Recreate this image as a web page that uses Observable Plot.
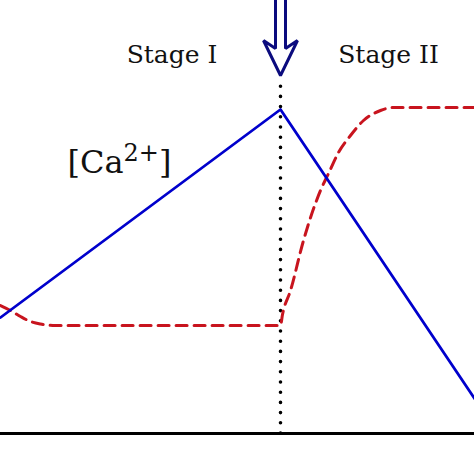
<!DOCTYPE html>
<html><head><meta charset="utf-8">
<script src="https://cdn.jsdelivr.net/npm/d3@7"></script>
<script src="https://cdn.jsdelivr.net/npm/@observablehq/plot@0.6"></script>
<style>html,body{margin:0;padding:0;background:#fff;} svg{display:block;}</style>
</head><body><div id="chart"></div>
<script>
// time axis and levels (level = height above the baseline)
const eventTime = 280;
const blueTime = [0, 280, 474];
const blueLevel = [116, 324, 35];
const redTime = [0, 10, 20, 30, 40, 55, 280, 282, 290, 303, 320, 328, 338, 350, 363, 380, 393, 474];
const redLevel = [128, 123, 117, 112, 109.5, 108, 108, 119, 143, 193, 243, 260, 281, 298, 313, 323, 326, 326];
const stageLabels = ["Stage I", "Stage II"];
const stageX = [171.5, 388];
const dottedTop = 355;
// arrow glyph outline relative to event time (time offset, level)
const arrowDx = [-5, -5, -17, 0, 17, 5, 5, -5];
const arrowLevel = [440, 385, 393, 358, 393, 385, 440, 440];

const blue = blueTime.map((t, i) => ({t, v: blueLevel[i]}));
const red = redTime.map((t, i) => ({t, v: redLevel[i]}));
const arrow = arrowDx.map((d, i) => ({t: eventTime + d, v: arrowLevel[i]}));
const stages = stageLabels.map((s, i) => ({s, t: stageX[i], v: 379}));

const plot = Plot.plot({
  width: 474, height: 474,
  marginTop: 0, marginBottom: 0, marginLeft: 0, marginRight: 0,
  x: {domain: [0, 474], axis: null},
  y: {domain: [-41, 433], axis: null},
  style: {background: "white", overflow: "visible"},
  marks: [
    Plot.ruleX([eventTime], {y1: 0, y2: dottedTop, stroke: "black", strokeWidth: 3.6, strokeDasharray: "0,10.2", strokeLinecap: "round"}),
    Plot.line(red, {x: "t", y: "v", stroke: "#c8141e", strokeWidth: 3, strokeDasharray: "11,7", curve: "monotone-x"}),
    Plot.line(blue, {x: "t", y: "v", stroke: "#0000cc", strokeWidth: 2.8}),
    Plot.ruleY([0], {stroke: "black", strokeWidth: 3}),
    Plot.line(arrow, {x: "t", y: "v", stroke: "#0b0b7e", strokeWidth: 3, fill: "white", strokeLinejoin: "miter"}),
    Plot.text(stages, {x: "t", y: "v", text: "s", fontSize: 25, fontFamily: "DejaVu Serif", fill: "#111"}),
    Plot.text([{t: 67, v: 271}], {x: "t", y: "v", text: () => "[Ca2+]", textAnchor: "start", fontSize: 32, fontFamily: "DejaVu Serif", fill: "#111", className: "calabel"})
  ]
});
document.getElementById("chart").appendChild(plot);
// superscript for the ion charge
d3.select(plot).selectAll(".calabel text").each(function() {
  const t = d3.select(this);
  t.text(null);
  t.append("tspan").text("[Ca");
  t.append("tspan").attr("dy", "-12").attr("font-size", "24").text("2+");
  t.append("tspan").attr("dy", "12").text("]");
});
</script></body></html>
